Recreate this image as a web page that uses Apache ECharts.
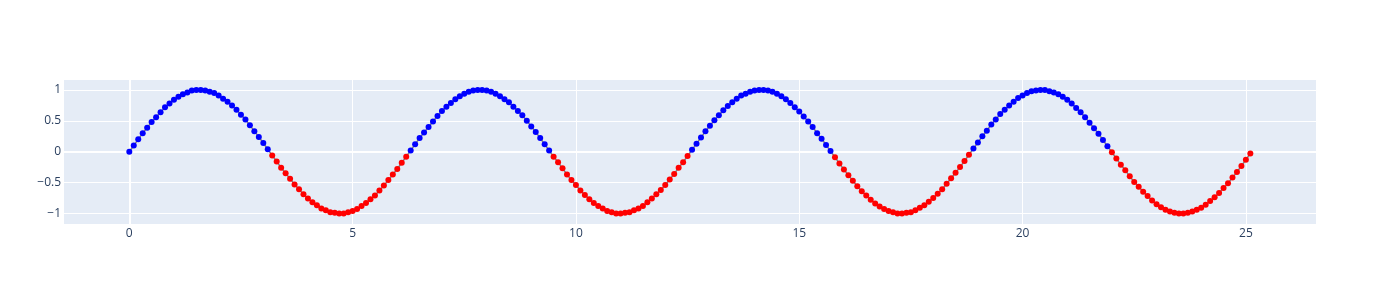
<!DOCTYPE html>
<html>
<head>
<meta charset="utf-8">
<script src="https://cdn.jsdelivr.net/npm/echarts@6/dist/echarts.min.js"></script>
<style>
html,body{margin:0;padding:0;background:#fff;}
#chart{width:1380px;height:288px;}
</style>
</head>
<body>
<div id="chart"></div>
<script>
const xValues = [
0.0,0.1,0.2,0.3,0.4,0.5,0.6,0.7,0.8,0.9,1.0,1.1,1.2,1.3,1.4,1.5,1.6,1.7,1.8,1.9,
2.0,2.1,2.2,2.3,2.4,2.5,2.6,2.7,2.8,2.9,3.0,3.1,3.2,3.3,3.4,3.5,3.6,3.7,3.8,3.9,
4.0,4.1,4.2,4.3,4.4,4.5,4.6,4.7,4.8,4.9,5.0,5.1,5.2,5.3,5.4,5.5,5.6,5.7,5.8,5.9,
6.0,6.1,6.2,6.3,6.4,6.5,6.6,6.7,6.8,6.9,7.0,7.1,7.2,7.3,7.4,7.5,7.6,7.7,7.8,7.9,
8.0,8.1,8.2,8.3,8.4,8.5,8.6,8.7,8.8,8.9,9.0,9.1,9.2,9.3,9.4,9.5,9.6,9.7,9.8,9.9,
10.0,10.1,10.2,10.3,10.4,10.5,10.6,10.7,10.8,10.9,11.0,11.1,11.2,11.3,11.4,11.5,11.6,11.7,11.8,11.9,
12.0,12.1,12.2,12.3,12.4,12.5,12.6,12.7,12.8,12.9,13.0,13.1,13.2,13.3,13.4,13.5,13.6,13.7,13.8,13.9,
14.0,14.1,14.2,14.3,14.4,14.5,14.6,14.7,14.8,14.9,15.0,15.1,15.2,15.3,15.4,15.5,15.6,15.7,15.8,15.9,
16.0,16.1,16.2,16.3,16.4,16.5,16.6,16.7,16.8,16.9,17.0,17.1,17.2,17.3,17.4,17.5,17.6,17.7,17.8,17.9,
18.0,18.1,18.2,18.3,18.4,18.5,18.6,18.7,18.8,18.9,19.0,19.1,19.2,19.3,19.4,19.5,19.6,19.7,19.8,19.9,
20.0,20.1,20.2,20.3,20.4,20.5,20.6,20.7,20.8,20.9,21.0,21.1,21.2,21.3,21.4,21.5,21.6,21.7,21.8,21.9,
22.0,22.1,22.2,22.3,22.4,22.5,22.6,22.7,22.8,22.9,23.0,23.1,23.2,23.3,23.4,23.5,23.6,23.7,23.8,23.9,
24.0,24.1,24.2,24.3,24.4,24.5,24.6,24.7,24.8,24.9,25.0,25.1
];
const yValues = [
0.00,0.10,0.20,0.30,0.39,0.48,0.56,0.64,0.72,0.78,0.84,0.89,0.93,0.96,0.99,1.00,1.00,0.99,0.97,0.95,
0.91,0.86,0.81,0.75,0.68,0.60,0.52,0.43,0.33,0.24,0.14,0.04,-0.06,-0.16,-0.26,-0.35,-0.44,-0.53,-0.61,-0.69,
-0.76,-0.82,-0.87,-0.92,-0.95,-0.98,-0.99,-1.00,-1.00,-0.98,-0.96,-0.93,-0.88,-0.83,-0.77,-0.71,-0.63,-0.55,-0.46,-0.37,
-0.28,-0.18,-0.08,
0.02,0.12,0.22,0.31,0.40,0.49,0.58,0.66,0.73,0.79,0.85,0.90,0.94,0.97,0.99,1.00,1.00,0.99,0.97,0.94,
0.90,0.85,0.80,0.73,0.66,0.59,0.50,0.41,0.32,0.22,0.12,0.02,-0.08,-0.17,-0.27,-0.37,-0.46,-0.54,-0.63,-0.70,
-0.77,-0.83,-0.88,-0.92,-0.96,-0.98,-1.00,-1.00,-0.99,-0.98,-0.95,-0.92,-0.88,-0.82,-0.76,-0.69,-0.62,-0.54,-0.45,-0.36,
-0.26,-0.17,-0.07,
0.03,0.13,0.23,0.33,0.42,0.51,0.59,0.67,0.74,0.80,0.86,0.91,0.94,0.97,0.99,1.00,1.00,0.99,0.97,0.94,
0.90,0.85,0.79,0.72,0.65,0.57,0.49,0.40,0.30,0.21,0.11,0.01,-0.09,-0.19,-0.29,-0.38,-0.47,-0.56,-0.64,-0.71,
-0.78,-0.84,-0.89,-0.93,-0.96,-0.98,-1.00,-1.00,-0.99,-0.98,-0.95,-0.91,-0.87,-0.81,-0.75,-0.68,-0.61,-0.52,-0.43,-0.34,
-0.25,-0.15,-0.05,
0.05,0.15,0.25,0.34,0.44,0.52,0.61,0.68,0.75,0.81,0.87,0.91,0.95,0.98,0.99,1.00,1.00,0.98,0.96,0.93,
0.89,0.84,0.78,0.71,0.64,0.56,0.47,0.38,0.29,0.19,0.09,-0.01,-0.11,-0.21,-0.30,-0.40,-0.49,-0.57,-0.65,-0.72,
-0.79,-0.85,-0.90,-0.94,-0.97,-0.99,-1.00,-1.00,-0.99,-0.97,-0.94,-0.91,-0.86,-0.80,-0.74,-0.67,-0.59,-0.51,-0.42,-0.33,
-0.23,-0.13,-0.03
];
const xTicks = [0, 5, 10, 15, 20, 25];
const yTicks = [-1, -0.5, 0, 0.5, 1];

const POS_COLOR = '#0000ff';
const NEG_COLOR = '#ff0000';
const FONT = '"Open Sans", "Noto Sans", sans-serif';
const TEXT = '#2a3f5f';

const pts = xValues.map((x, i) => [x, yValues[i]]);

const chart = echarts.init(document.getElementById('chart'), null, {renderer: 'canvas'});
chart.setOption({
  animation: false,
  backgroundColor: '#ffffff',
  grid: {left: 64, right: 64, top: 80, bottom: 64, show: true, backgroundColor: '#E5ECF6', borderWidth: 0, containLabel: false},
  xAxis: {
    type: 'value', min: -1.462, max: 26.57,
    axisLine: {show: false},
    axisTick: {show: false, customValues: xTicks},
    axisLabel: {customValues: xTicks, color: TEXT, fontFamily: FONT, fontSize: 12, margin: 4,
      formatter: v => String(v).replace('-', '\u2212')},
    splitLine: {show: true, lineStyle: {color: '#ffffff', width: 1}}
  },
  yAxis: {
    type: 'value', min: -1.172, max: 1.162,
    axisLine: {show: false},
    axisTick: {show: false, customValues: yTicks},
    axisLabel: {customValues: yTicks, color: TEXT, fontFamily: FONT, fontSize: 12, margin: 3,
      formatter: v => String(v).replace('-', '\u2212')},
    splitLine: {show: true, lineStyle: {color: '#ffffff', width: 1}}
  },
  series: [
    {
      type: 'line', data: [], z: 1, silent: true,
      markLine: {
        z: 1, silent: true, symbol: 'none', label: {show: false},
        lineStyle: {color: '#ffffff', width: 2, type: 'solid'},
        data: [{yAxis: 0}, {xAxis: 0}]
      }
    },
    {
      type: 'line', data: pts, z: 3,
      symbol: 'circle', symbolSize: 6, showAllSymbol: true,
      lineStyle: {color: '#808080', width: 1.5},
      itemStyle: {color: p => (p.value[1] >= 0 ? POS_COLOR : NEG_COLOR), borderWidth: 0}
    }
  ]
});
</script>
</body>
</html>
